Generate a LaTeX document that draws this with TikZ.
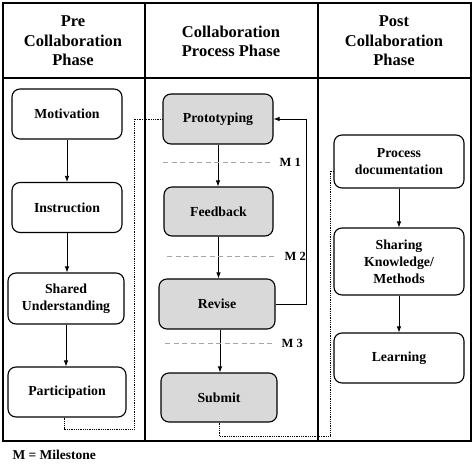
\documentclass[tikz,border=0pt]{standalone}
\usepackage{fontspec}
\setmainfont{Liberation Serif}
\usetikzlibrary{arrows.meta}

\tikzset{
  phasebox/.style={draw, rounded corners=8pt, line width=1.1pt, align=center,
    font=\bfseries\fontsize{13.8}{17}\selectfont, minimum width=110pt, minimum height=50pt, inner sep=2pt},
  graybox/.style={phasebox, fill=black!15},
  flow/.style={-{Latex[length=6pt,width=4.5pt]}, line width=0.8pt},
  milestone/.style={gray!70, dashed, dash pattern=on 5pt off 3.5pt, line width=0.8pt},
  handover/.style={densely dotted, line width=0.8pt},
  mlabel/.style={right=6pt, black, font=\bfseries\fontsize{12.5}{14}\selectfont},
}

\begin{document}
\begin{tikzpicture}[x=1pt,y=-1pt]
    \useasboundingbox (0,0) rectangle (474,470);
    % frame and columns
    \draw[line width=2.2pt] (3,3) rectangle (471,441);
    \draw[line width=2pt] (3,78) -- (471,78);
    \foreach \x in {145,318}
        \draw[line width=2pt] (\x,3) -- (\x,441);

    % headers
    \node[align=center, font=\bfseries\fontsize{16.5}{19.5}\selectfont] (pre) at (73,41) {Pre\\Collaboration\\Phase};
    \node[align=center, font=\bfseries\fontsize{16.5}{19.5}\selectfont] (proc) at (231,41.5) {Collaboration\\Process Phase};
    \node[align=center, font=\bfseries\fontsize{16.5}{19.5}\selectfont] (post) at (394,41) {Post\\Collaboration\\Phase};

    % pre collaboration
    \node[phasebox] (motiv) at (67,114) {Motivation};
    \node[phasebox] (instr) at (67,207.5) {Instruction};
    \node[phasebox, minimum width=116pt, minimum height=51pt] (shared) at (66,298.5) {Shared\\Understanding};
    \node[phasebox, minimum width=118pt] (partic) at (67,392) {Participation};

    % collaboration process
    \node[graybox] (proto) at (218,119) {Prototyping};
    \node[graybox, minimum width=109pt, minimum height=49pt] (feedb) at (218.5,211.5) {Feedback};
    \node[graybox, minimum width=116pt] (revise) at (217,304) {Revise};
    \node[graybox, minimum width=116pt, minimum height=49pt] (submit) at (219,397.5) {Submit};

    % post collaboration
    \node[phasebox, minimum width=130pt, minimum height=53pt] (procdoc) at (399,161.5) {Process\\documentation};
    \node[phasebox, minimum width=130pt, minimum height=67pt] (sharing) at (399,261.5) {Sharing\\Knowledge/\\Methods};
    \node[phasebox, minimum width=130pt] (learn) at (399,358) {Learning};

    % arrows
    \draw[flow] (motiv) -- (instr);
    \draw[flow] (instr) -- (instr |- shared.north);
    \draw[flow] (shared) -- (shared |- partic.north);
    \draw[flow] (proto.south) -- (proto.south |- feedb.north);
    \draw[flow] (feedb.south) -- (feedb.south |- revise.north);
    \draw[flow] (revise.south -| 220,0) -- (220,0 |- submit.north);
    \draw[flow] (procdoc) -- (sharing);
    \draw[flow] (sharing) -- (learn);
    \draw[flow] (revise.east) -- (306,304) -- (306,119) -- (proto.east);

    % milestones
    \draw[milestone] (163,162) -- (270,162) node[mlabel] (m1) {M 1};
    \draw[milestone] (167,256) -- (275,256) node[mlabel] (m2) {M 2};
    \draw[milestone] (165,343) -- (272,343) node[mlabel] (m3) {M 3};

    % hand-over between phases
    \draw[handover] (partic.south -| 64,0) -- (64,429) -- (134,429) -- (134,119) -- (proto.west);
    \draw[handover] (submit.south) -- (219,436) -- (330,436) -- (330,171) -- (procdoc.west |- 0,171);

    \node[anchor=west, font=\bfseries\fontsize{13.5}{15}\selectfont] (legend) at (9,455) {M = Milestone};
\end{tikzpicture}
\end{document}
